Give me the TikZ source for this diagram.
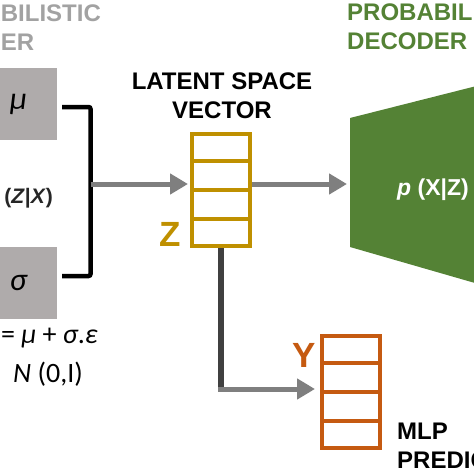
\documentclass[tikz,border=0pt]{standalone}
\usepackage{fontspec}
\setmainfont{Liberation Sans}
\newfontfamily\carlito{Carlito}
\usetikzlibrary{arrows.meta,positioning,calc}
\definecolor{encgray}{HTML}{A2A2A2}
\definecolor{boxgray}{HTML}{AFABAB}
\definecolor{zgold}{HTML}{BF9000}
\definecolor{yorange}{HTML}{C55A11}
\definecolor{decgreen}{HTML}{548235}
\definecolor{arrgray}{HTML}{7F7F7F}
\definecolor{linkdark}{HTML}{404040}

\begin{document}
\begin{tikzpicture}[x=1pt,y=-1pt,
        head/.style={font=\fontsize{24}{29}\selectfont\bfseries, align=left, inner sep=0pt, anchor=base west},
        parbox/.style={fill=boxgray, minimum width=77pt, minimum height=72pt, inner sep=0pt,
            font=\carlito\itshape\fontsize{32}{32}\selectfont},
        vecbox/.style={draw, line width=4pt, minimum width=58pt, minimum height=112pt, inner sep=0pt},
        veclbl/.style={font=\fontsize{35}{35}\selectfont\bfseries, inner sep=0pt, anchor=base east},
        arr/.style={draw=arrgray, line width=5pt, -{Triangle[length=18pt,width=20pt]}},
        eq/.style={font=\carlito\fontsize{28}{28}\selectfont, inner sep=0pt, anchor=base east}
    ]
    \useasboundingbox (0,0) rectangle (474,474);
    \clip (0,0) rectangle (474,474);

    % encoder side
    \node[head, text=encgray] (enchead) at (-86,50) {PROBABILISTIC\\ENCODER};
    \node[parbox] (mu) at (18.5,104) {μ};
    \node[parbox] (sigma) at (18.5,283) {σ};
    \node[font=\fontsize{21}{21}\selectfont\bfseries, text=black!85, inner sep=0pt, anchor=base east]
        (qzx) at (53,203) {(\textit{Z}|\textit{X})};
    \node[eq] (reparam) at (98,343) {= \textit{μ} + \textit{σ}.\textit{ε}};
    \node[eq] (noise) at (83,382) {\textit{N} (0,I)};

    \coordinate (bt) at (62,107);
    \coordinate (bb) at (62,276);
    \coordinate (brk) at (90.5,184);
    \draw[line width=4.5pt, rounded corners=2pt] (bt) -| (brk) |- (bb);

    % latent space
    \node[head, align=center, anchor=base] (lathead) at (222,118) {LATENT SPACE\\VECTOR};
    \node[vecbox, draw=zgold] (zvec) at (221,190) {};
    \foreach \k in {1,2,3}
        \draw[zgold, line width=4pt] ($(zvec.north west)!\k/4!(zvec.south west)$) -- ($(zvec.north east)!\k/4!(zvec.south east)$);
    \node[veclbl, text=zgold] (zlbl) at ([xshift=-9pt,yshift=2pt]zvec.south west) {Z};

    % decoder
    \fill[decgreen] (350,118) -- (520,75) -- (520,296) -- (350,247) -- cycle;
    \coordinate (dec) at (347,184);
    \node[head, text=decgreen] (dechead) at (347,49) {PROBABILISTIC\\DECODER};
    \node[font=\fontsize{23}{23}\selectfont\bfseries, text=white, inner sep=0pt, anchor=base west]
        (pxz) at (397,195) {\textit{p} (X|Z)};

    % predictor
    \node[vecbox, draw=yorange] (yvec) at (351,392) {};
    \foreach \k in {1,2,3}
        \draw[yorange, line width=4pt] ($(yvec.north west)!\k/4!(yvec.south west)$) -- ($(yvec.north east)!\k/4!(yvec.south east)$);
    \node[veclbl, text=yorange] (ylbl) at ([xshift=-4pt,yshift=-33pt]yvec.north west) {Y};
    \node[head] (mlphead) at (397,468) {MLP\\PREDICTOR};

    % connectors
    \coordinate (ytap) at ([yshift=3pt]yvec.west);
    \draw[arr, shorten >=2pt] (brk) -- (brk -| zvec.west);
    \draw[arr] (zvec.east |- brk) -- (dec);
    \draw[draw=linkdark, line width=5.5pt] (zvec.south) -- ([yshift=-2.75pt]zvec.south |- ytap);
    \draw[arr, shorten >=5pt] ([xshift=-2.75pt]zvec.south |- ytap) -- (ytap);
\end{tikzpicture}
\end{document}
